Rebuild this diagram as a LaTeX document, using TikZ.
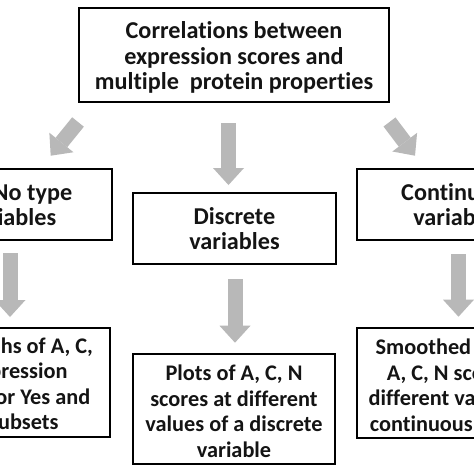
\documentclass[tikz,border=0pt]{standalone}
\usepackage{fontspec}
\setmainfont{Carlito}[Ligatures=NoCommon]
\usetikzlibrary{arrows.meta}
\definecolor{arrowgray}{RGB}{184,184,184}
\definecolor{txt}{RGB}{20,20,20}
\tikzset{
  box/.style={draw=black, line width=2.6pt, rectangle, align=center, inner sep=0pt,
    text=txt, font=\fontsize{24.2}{25.8}\selectfont\bfseries},
  smallbox/.style={box, font=\fontsize{22.3}{25.6}\selectfont\bfseries},
  fatarrow/.style={draw=arrowgray, line width=15pt,
    -{Triangle[width=31pt,length=17pt,line width=0pt,fill=arrowgray]}}
}
\begin{document}
\begin{tikzpicture}[x=1pt,y=-1pt]
\useasboundingbox (0,0) rectangle (474,474);
\clip (0,0) rectangle (474,474);
\fill[white] (0,0) rectangle (474,474);

\node[box, minimum width=310pt, minimum height=94pt] (top) at (234,55)
  {\rule{0pt}{22pt}Correlations between\\expression scores and\\multiple~ protein properties};

\node[box, minimum width=202pt, minimum height=71pt] (ml) at (11,204.5)
  {Yes/No type\\variables};
\node[box, minimum width=203pt, minimum height=71pt] (mm) at (234.5,228.5)
  {Discrete\\variables};
\node[box, minimum width=203pt, minimum height=71pt] (mr) at (458.5,204.5)
  {Continuous\\variables};

\node[smallbox, minimum width=204pt, minimum height=109pt] (bl) at (8,382.5)
  {\rule{0pt}{18pt}\hspace*{33pt}Graphs of A, C,\\N expression\\scores for Yes and\\No subsets};
\node[smallbox, minimum width=202pt, minimum height=110pt] (bm) at (234,409)
  {\rule{0pt}{20pt}Plots of A, C, N\\scores at different\\values of a discrete\\variable};
\node[smallbox, minimum width=208pt, minimum height=110pt] (br) at (461,383)
  {\rule{0pt}{20pt}Smoothed plots of\\A, C, N scores at\\different values of a\\continuous variable};

% arrow end points
\coordinate (a1s) at (78,122);    \coordinate (a1e) at (50.7,155.7);
\coordinate (a2s) at (228.5,123); \coordinate (a2e) at (228.5,185);
\coordinate (a3s) at (389.5,122); \coordinate (a3e) at (415,155.7);
\coordinate (a4s) at (10,253);    \coordinate (a4e) at (10,317);
\coordinate (a5s) at (235,279);   \coordinate (a5e) at (235,342.7);
\coordinate (a6s) at (458.5,254); \coordinate (a6e) at (458.5,316.7);

\draw[fatarrow] (a1s) -- (a1e);
\draw[fatarrow] (a2s) -- (a2e);
\draw[fatarrow] (a3s) -- (a3e);
\draw[fatarrow] (a4s) -- (a4e);
\draw[fatarrow] (a5s) -- (a5e);
\draw[fatarrow] (a6s) -- (a6e);
\end{tikzpicture}
\end{document}
